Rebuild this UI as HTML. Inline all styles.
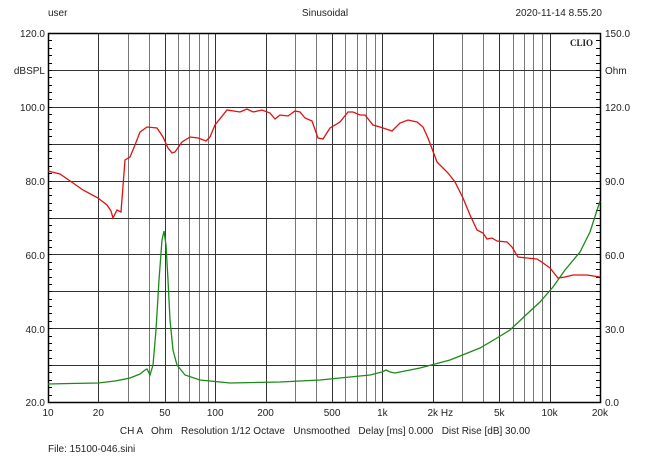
<!DOCTYPE html>
<html><head><meta charset="utf-8"><style>
html,body{margin:0;padding:0;background:#fff;}
svg text{font-family:"Liberation Sans",sans-serif;font-size:10px;fill:#222;white-space:pre;}
</style></head><body>
<svg width="650" height="469" viewBox="0 0 650 469" xmlns="http://www.w3.org/2000/svg">
<rect width="650" height="469" fill="#fff"/>
<g id="grid" stroke="#444" stroke-width="1" shape-rendering="crispEdges"></g>
<g id="ticks" stroke="#000" stroke-width="1" shape-rendering="crispEdges"></g>
<rect x="48.5" y="33.5" width="552" height="369" fill="none" stroke="#000" stroke-width="1.5"/>
<polyline fill="none" stroke="#1a8a1a" stroke-width="1.3" points="48,384 70,383.5 98,383 115,381 130,378 140,374 145,370 147,369 150,375 153,365 156,330 159,280 162,240 164,231 166,245 168,280 170,320 173,350 177,365 185,375 200,380 230,383 280,382 320,380 350,377 370,375 382,372 386,370 390,372 395,373 420,368 450,360 480,348 497,338 510,330 527,314 540,302 553,287 565,270 580,252 590,232 600,201"/>
<polyline fill="none" stroke="#e01010" stroke-width="1.3" points="48,171 60,174 73,183 83,190 98,198 107,205 111,211 113,218 117,210 121,212 125,160 130,157 135,145 140,132 147,127 157,128 163,137 168,148 172,153 175,152 182,142 190,137 198,138 206,141 210,137 215,125 227,110 240,112 247,109 253,112 262,110 270,113 275,119 280,115 288,116 295,111 300,112 305,118 312,121 318,138 323,139 330,128 340,122 348,112 353,112 360,115 365,115 373,125 380,127 392,131 400,123 408,120 417,122 423,127 428,138 437,162 448,173 455,182 463,198 470,215 477,230 483,233 487,239 492,238 497,241 507,242 512,247 518,257 527,258 537,259 543,263 550,268 558,278 565,277 573,275 587,275 600,277"/>
<text x="48" y="16">user</text>
<text x="325" y="16" text-anchor="middle">Sinusoidal</text>
<text x="602" y="16" text-anchor="end">2020-11-14 8.55.20</text>
<text x="570" y="46" style="font-family:'Liberation Serif',serif;font-weight:bold;font-size:9px">CLIO</text>
<g text-anchor="end">
<text x="45" y="37">120.0</text><text x="45" y="74">dBSPL</text><text x="45" y="111">100.0</text>
<text x="45" y="185">80.0</text><text x="45" y="259">60.0</text><text x="45" y="333">40.0</text><text x="45" y="406">20.0</text>
</g>
<g>
<text x="605" y="37">150.0</text><text x="605" y="74">Ohm</text><text x="605" y="111">120.0</text>
<text x="605" y="185">90.0</text><text x="605" y="259">60.0</text><text x="605" y="333">30.0</text><text x="605" y="406">0.0</text>
</g>
<g text-anchor="middle" id="xl"></g>
<text x="325" y="434" text-anchor="middle">CH A   Ohm   Resolution 1/12 Octave   Unsmoothed   Delay [ms] 0.000   Dist Rise [dB] 30.00</text>
<text x="48" y="452">File: 15100-046.sini</text>
<script>
(function(){
var ns="http://www.w3.org/2000/svg";
function X(f){return 48+Math.log10(f/10)*167.2;}
var g=document.getElementById('grid'),t=document.getElementById('ticks'),xl=document.getElementById('xl');
function line(p,x1,y1,x2,y2,c){var l=document.createElementNS(ns,'line');l.setAttribute('x1',x1);l.setAttribute('y1',y1);l.setAttribute('x2',x2);l.setAttribute('y2',y2);if(c)l.setAttribute('stroke',c);p.appendChild(l);}
[10,100,1000,10000].forEach(function(d){for(var m=1;m<=9;m++){var f=d*m;if(f<=10||f>20000)continue;var x=Math.round(X(f))+0.5;line(g,x,33,x,402,(m==1||m==2||m==5)?'#333':'#777');}});
for(var v=30;v<120;v+=10){var y=Math.round(402-(v-20)*3.69)+0.5;line(g,48,y,600,y,'#333');}
for(var v=22;v<120;v+=2){var y=Math.round(402-(v-20)*3.69)+0.5;line(t,48,y,52,y);line(t,596,y,600,y);}
var labs=[[10,'10'],[20,'20'],[50,'50'],[100,'100'],[200,'200'],[500,'500'],[1000,'1k'],[2000,'2k'],[5000,'5k'],[10000,'10k'],[20000,'20k']];
labs.forEach(function(a){var e=document.createElementNS(ns,'text');e.setAttribute('x',X(a[0]));e.setAttribute('y',416);e.textContent=a[1];xl.appendChild(e);});
var h=document.createElementNS(ns,'text');h.setAttribute('x',447);h.setAttribute('y',416);h.textContent='Hz';xl.appendChild(h);
})();
</script>
</svg>
</body></html>
